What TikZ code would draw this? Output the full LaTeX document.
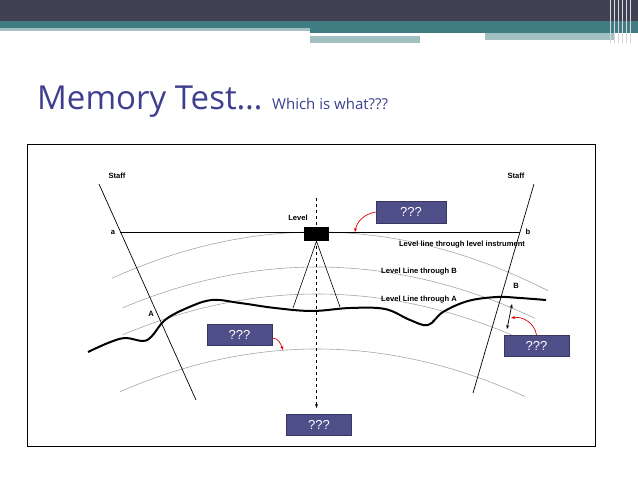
\documentclass[tikz,border=0pt]{standalone}
\usepackage{fontspec}
\setmainfont{Liberation Sans}
\newfontfamily\titlefont{Open Sans}
\usetikzlibrary{arrows.meta,calc}
\definecolor{banner}{HTML}{414154}
\definecolor{tealc}{HTML}{3F7D82}
\definecolor{lteal}{HTML}{A2BFC2}
\definecolor{qbox}{HTML}{4E4E88}
\definecolor{titlec}{HTML}{3F3F8F}
\tikzset{
 lvl/.style={gray!70, line width=0.6pt},
 lab/.style={font=\bfseries\fontsize{7.6}{8}\selectfont, inner sep=0pt},
 qq/.style={fill=qbox, draw=qbox!70!black, text=white, minimum width=65pt, minimum height=21pt, font=\fontsize{13}{14}\selectfont, inner sep=0pt},
 red/.style={draw=red!85!black, line width=0.7pt, -{Stealth[length=4pt]}},
}
\begin{document}
\begin{tikzpicture}[x=1pt,y=-1pt]
\useasboundingbox (0,0) rectangle (638,478);
\fill[white] (0,0) rectangle (638,478);
% banner
\fill[banner] (0,0) rectangle (638,21);
\fill[tealc] (0,21) rectangle (638,28);
\fill[lteal] (0,28) rectangle (310,31);
\fill[tealc] (310,28) rectangle (638,33);
\fill[white] (310,33) rectangle (485,35);
\fill[lteal] (485,33) rectangle (615,40);
\fill[lteal] (310,36) rectangle (420,43);
\foreach \xx in {610,614,618,622,626,630} \draw[white!70!gray, line width=0.8pt] (\xx,0) -- (\xx,43);
% title
\node[anchor=base west, inner sep=0pt, text=titlec, font=\titlefont\fontsize{33}{35}\selectfont] (t) at (37,110) {Memory Test\dots};
\node[anchor=base west, inner sep=0pt, text=titlec, font=\titlefont\fontsize{15}{16}\selectfont] (t2) at (272,110) {Which is what???};
% frame
\draw[line width=0.8pt] (27,144) rectangle (595,446);
% level lines
\draw[lvl] plot[domain=112:548, samples=50] (\x, {232+0.11*((\x-317)/10)^2});
\draw[lvl] plot[domain=123:535, samples=50] (\x, {267+0.108*((\x-317)/10)^2});
\draw[lvl] plot[domain=123:538, samples=50] (\x, {294+0.108*((\x-317)/10)^2});
\draw[lvl] plot[domain=120:525, samples=50] (\x, {349+0.11*((\x-317)/10)^2});
% staffs
\coordinate (s1a) at (99,184); \coordinate (s1b) at (196,400);
\coordinate (s2a) at (534,184); \coordinate (s2b) at (473,393);
\draw[line width=0.7pt] (s1a) -- (s1b);
\draw[line width=0.7pt] (s2a) -- (s2b);
% line a-b
\node[lab] (a) at (113,232) {a};
\node[lab] (b) at (528,232) {b};
\draw[line width=0.6pt] ($(a.east)+(5,0)$) -- ($(b.west)+(-5,0)$);
% instrument
\node[fill=black, minimum width=25pt, minimum height=14pt, inner sep=0pt] (inst) at (316.5,234) {};
\draw[line width=0.6pt] (inst.south) -- (293,308);
\draw[line width=0.6pt] (inst.south) -- (340,307);
\node[lab] (level) at (298,218) {Level};
% ground
\draw[line width=2pt, line join=round] plot[smooth, tension=0.6] coordinates {(88,352) (108,343) (125,338) (143,341) (152,336) (165,320) (187,308) (212,300) (240,303) (275,308) (312,311) (350,308) (385,309) (410,320) (428,325) (443,312) (468,301) (497,297) (520,298) (546,300)};
% dashed vertical and bottom box
\node[qq] (qb) at (319,425) {???};
\draw[dashed, line width=0.7pt, -{Stealth[length=4pt]}] (316.5,198) -- (316.5,408);
% labels
\node[lab] (s1) at (117,176) {Staff};
\node[lab] (s2) at (516,176) {Staff};
\node[lab] (A) at (151,314) {A};
\node[lab] (B) at (516,286) {B};
\node[lab] (l1) at (462,245) {Level line through level instrument};
\node[lab] (l2) at (419,272) {Level Line through B};
\node[lab] (l3) at (419,300) {Level Line through A};
% boxes
\node[qq, minimum width=70pt, minimum height=22pt] (qt) at (411,212) {???};
\node[qq] (ql) at (239.5,335) {???};
\node[qq] (qr) at (536.5,345.5) {???};
\draw[red] (qt.west) to[out=190, in=80] (355,232);
\draw[red] ($(ql.east)+(0,3)$) to[out=0, in=110] (283,350);
\draw[red] (qr.north) to[out=100, in=10] (511,318);
\draw[line width=0.7pt, {Stealth[length=4pt]}-{Stealth[length=4pt]}] (512,304) -- (507,329);
\end{tikzpicture}
\end{document}
